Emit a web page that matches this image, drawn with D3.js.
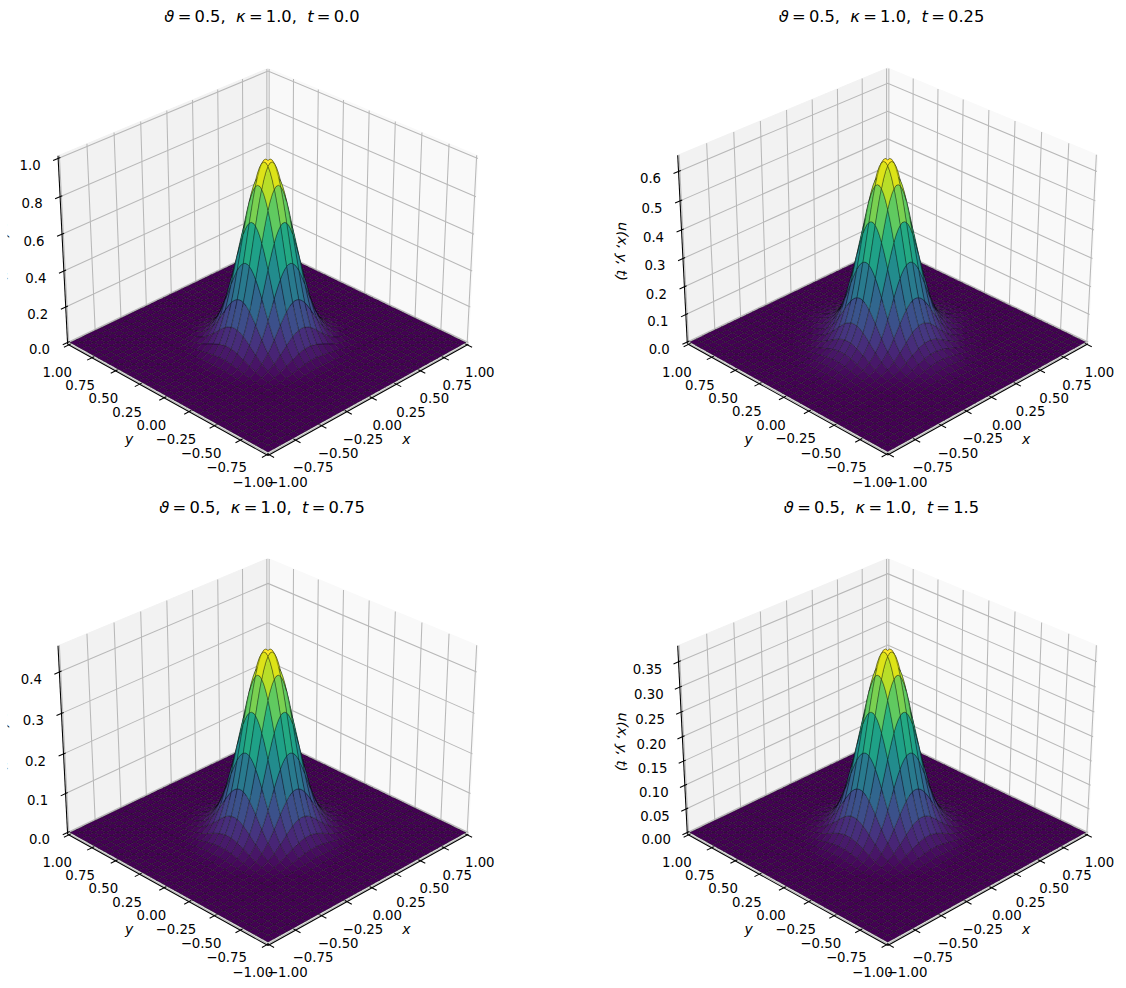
<!DOCTYPE html>
<html>
<head>
<meta charset="utf-8">
<script src="https://cdn.jsdelivr.net/npm/d3@7"></script>
<style>
  html, body { margin: 0; padding: 0; background: #fff; }
  svg { display: block; }
  text { font-family: "DejaVu Sans", sans-serif; fill: #000; }
</style>
</head>
<body>
<svg id="chart" width="1126" height="988"></svg>
<script>
// Solution snapshots of the 2D diffusion problem
const thetaValue = "0.5";
const kappaValue = "1.0";
const timeLabels = ["0.0", "0.25", "0.75", "1.5"];
const peakHeights = [1.0, 0.645, 0.456, 0.376];
const zTicksA = [0, 0.2, 0.4, 0.6, 0.8, 1.0];
const zTicksB = [0, 0.1, 0.2, 0.3, 0.4, 0.5, 0.6];
const zTicksC = [0, 0.1, 0.2, 0.3, 0.4];
const zTicksD = [0, 0.05, 0.1, 0.15, 0.2, 0.25, 0.3, 0.35];
const zTickFormats = [".1f", ".1f", ".1f", ".2f"];
const planeTicks = [-1, -0.75, -0.5, -0.25, 0, 0.25, 0.5, 0.75, 1];

// Height along one axis relative to the peak, one entry per sample from the centre out to the edge
const profileA = [1, .9873, .9625, .9263, .8803, .8259, .7650, .6997, .6318, .5633,
  .4958, .4309, .3698, .3133, .2621, .2165, .1765, .1421, .1129, .0886,
  .0687, .0525, .0397, .0296, .0218, .0158, .0114, .0081, .0056, .0039,
  .0027, .0018, .0012, .0008, .0005, .0003, .0002, .0001, .0001, 0,
  0, 0, 0, 0, 0, 0, 0, 0, 0, 0];
const profileB = [1, .9875, .963, .927, .881, .827, .766, .701, .634, .567,
  .500, .436, .376, .321, .275, .233, .197, .166, .140, .118,
  .100, .085, .072, .061, .052, .044, .037, .031, .026, .022,
  .018, .015, .0125, .0105, .0085, .007, .0058, .0047, .0038, .003,
  .0024, .0019, .0015, .0012, .0009, .0007, .0005, .0004, .0003, .0002];
const profileC = [1, .9874, .9627, .9267, .881, .8267, .766, .701, .633, .565,
  .498, .434, .373, .317, .266, .221, .181, .147, .118, .094,
  .074, .058, .045, .035, .027, .021, .016, .012, .009, .007,
  .005, .004, .003, .002, .0015, .001, .0008, .0006, .0004, .0003,
  .0002, .0001, 0, 0, 0, 0, 0, 0, 0, 0];
const profileD = [1, .9874, .9627, .9267, .881, .8267, .766, .701, .633, .565,
  .498, .434, .373, .317, .266, .221, .181, .147, .118, .094,
  .074, .058, .045, .035, .027, .021, .016, .012, .009, .007,
  .005, .004, .003, .002, .0015, .001, .0008, .0006, .0004, .0003,
  .0002, .0001, 0, 0, 0, 0, 0, 0, 0, 0];

const sampleCount = 100, cellStride = 3;
const panelOrigins = [[0, 0], [619.7, -0.5], [0, 490], [619.7, 490]];
const panelTicks = [zTicksA, zTicksB, zTicksC, zTicksD];
const panelProfiles = [profileA, profileB, profileC, profileD];
const titleCentres = [[262, 22], [881.5, 22], [262, 513], [881.5, 513]];

// Viewing geometry of the 3D box
const elev = 30 * Math.PI / 180, azim = 225 * Math.PI / 180, viewDist = 10;
const aspect = [4, 4, 3];
const aspectNorm = Math.hypot(...aspect);
const box = aspect.map(a => a * 1.8294640721620434 * 25 / 24 / aspectNorm);
box[2] *= 1.025;
const centre = box.map(b => b / 2);
const viewDir = [Math.cos(elev) * Math.cos(azim), Math.cos(elev) * Math.sin(azim), Math.sin(elev)];
const eye = centre.map((c, i) => c + viewDist * viewDir[i]);
const cross = (a, b) => [a[1]*b[2]-a[2]*b[1], a[2]*b[0]-a[0]*b[2], a[0]*b[1]-a[1]*b[0]];
const dot = (a, b) => a[0]*b[0]+a[1]*b[1]+a[2]*b[2];
const unit = a => { const n = Math.hypot(...a); return a.map(v => v / n); };
const camW = unit(viewDir), camU = unit(cross([0, 0, 1], camW)), camV = cross(camW, camU);

// x, y in [-1, 1]; z as a fraction of the panel's height range
function project(x, y, z) {
  const p = [(x + 1) / 2 * box[0], (y + 1) / 2 * box[1], z * box[2]];
  const d = p.map((v, i) => v - eye[i]);
  const w = -dot(camW, d);
  return { u: dot(camU, d) / w, v: dot(camV, d) / w, depth: w };
}

const xyEdge = 1.012;
const zLow = -0.01, zHigh = 1.014;

const sx = d3.scaleLinear()
  .domain([project(-xyEdge, xyEdge, zHigh).u, project(xyEdge, -xyEdge, zHigh).u])
  .range([58, 478]);
const sy = d3.scaleLinear()
  .domain([project(xyEdge, xyEdge, zHigh).v, project(-xyEdge, -xyEdge, zLow).v])
  .range([68.5, 455.5]);
const pt = (x, y, z) => { const p = project(x, y, z); return [sx(p.u), sy(p.v)]; };
const linePath = d3.line();

const svg = d3.select("#chart");
const defs = svg.append("defs");
defs.append("clipPath").attr("id", "edgeClip")
  .append("rect").attr("x", 7.5).attr("y", 0).attr("width", 8).attr("height", 988);

const minus = s => s.replace("-", "\u2212");
const fmtPlane = v => minus(d3.format(".2f")(v));

// Sample positions and the indices at which cell boundaries fall
const sampleX = d3.scaleLinear().domain([0, sampleCount - 1]).range([-1, 1]);
const cellEdges = d3.range(0, sampleCount - 1, cellStride).concat([sampleCount - 1]);

panelOrigins.forEach(([ox, oy], idx) => {
  const peak = peakHeights[idx];
  const zn = v => v / peak;
  const g = svg.append("g").attr("transform", `translate(${ox},${oy})`);

  // Back walls and floor
  const panes = [
    { c: "#f9f9f9", pts: [[xyEdge,-xyEdge,zLow],[xyEdge,xyEdge,zLow],[xyEdge,xyEdge,zHigh],[xyEdge,-xyEdge,zHigh]] },
    { c: "#f2f2f2", pts: [[-xyEdge,xyEdge,zLow],[xyEdge,xyEdge,zLow],[xyEdge,xyEdge,zHigh],[-xyEdge,xyEdge,zHigh]] },
    { c: "#f5f5f5", pts: [[-xyEdge,-xyEdge,zLow],[xyEdge,-xyEdge,zLow],[xyEdge,xyEdge,zLow],[-xyEdge,xyEdge,zLow]] }
  ];
  g.selectAll("path.pane").data(panes).join("path").attr("class", "pane")
    .attr("d", d => linePath(d.pts.map(p => pt(...p))) + "Z")
    .attr("fill", d => d.c).attr("stroke", d => d.c).attr("stroke-width", 1);

  // Grid lines on the panes
  const grid = [];
  planeTicks.forEach(t => {
    grid.push([[t,-xyEdge,zLow],[t,xyEdge,zLow],[t,xyEdge,zHigh]]);
    grid.push([[-xyEdge,t,zLow],[xyEdge,t,zLow],[xyEdge,t,zHigh]]);
  });
  panelTicks[idx].forEach(t => {
    grid.push([[-xyEdge,xyEdge,zn(t)],[xyEdge,xyEdge,zn(t)],[xyEdge,-xyEdge,zn(t)]]);
  });
  g.selectAll("path.grid").data(grid).join("path").attr("class", "grid")
    .attr("d", d => linePath(d.map(p => pt(...p))))
    .attr("fill", "none").attr("stroke", "#b8b8b8").attr("stroke-width", 1.05);

  // Axis lines
  const axes = [
    [[-xyEdge,-xyEdge,zLow],[xyEdge,-xyEdge,zLow]],
    [[-xyEdge,-xyEdge,zLow],[-xyEdge,xyEdge,zLow]],
    [[-xyEdge,xyEdge,zLow],[-xyEdge,xyEdge,zHigh]]
  ];
  g.selectAll("path.axis").data(axes).join("path").attr("class", "axis")
    .attr("d", d => linePath(d.map(p => pt(...p))))
    .attr("fill", "none").attr("stroke", "#000").attr("stroke-width", 1.05);

  // Tick marks
  const tickIn = 0.02, tickOut = 0.045;
  const ticks = [];
  planeTicks.forEach(t => {
    ticks.push([[t,-xyEdge+tickIn,zLow],[t,-xyEdge-tickOut,zLow]]);
    ticks.push([[-xyEdge+tickIn,t,zLow],[-xyEdge-tickOut,t,zLow]]);
  });
  panelTicks[idx].forEach(t => {
    ticks.push([[-xyEdge+tickIn,xyEdge,zn(t)],[-xyEdge-tickOut,xyEdge,zn(t)]]);
  });
  g.selectAll("path.tick").data(ticks).join("path").attr("class", "tick")
    .attr("d", d => linePath(d.map(p => pt(...p))))
    .attr("fill", "none").attr("stroke", "#000").attr("stroke-width", 1.05);

  // Surface cells, far ones first; each outline follows every sample along its edge
  const profile = panelProfiles[idx];
  const half = sampleCount / 2;
  const relative = i => profile[i < half ? half - 1 - i : i - half];
  const cells = [];
  for (let a = 0; a < cellEdges.length - 1; a++) {
    for (let b = 0; b < cellEdges.length - 1; b++) {
      const i0 = cellEdges[a], i1 = cellEdges[a + 1], j0 = cellEdges[b], j1 = cellEdges[b + 1];
      const outline = [];
      for (let i = i0; i < i1; i++) outline.push([i, j0]);
      for (let j = j0; j < j1; j++) outline.push([i1, j]);
      for (let i = i1; i > i0; i--) outline.push([i, j1]);
      for (let j = j1; j > j0; j--) outline.push([i0, j]);
      const nodes = outline.map(([i, j]) => ({ x: sampleX(i), y: sampleX(j), z: relative(i) * relative(j) }));
      cells.push({
        nodes,
        mean: d3.mean(nodes, n => n.z),
        depth: d3.mean(nodes, n => project(n.x, n.y, n.z).depth)
      });
    }
  }
  cells.sort((p, q) => q.depth - p.depth);
  const colour = d3.scaleSequential(d3.interpolateViridis).domain(d3.extent(cells, c => c.mean));
  g.append("g").selectAll("path").data(cells).join("path")
    .attr("d", d => linePath(d.nodes.map(n => pt(n.x, n.y, n.z))) + "Z")
    .attr("fill", d => colour(d.mean))
    .attr("stroke", "#0a0a0a").attr("stroke-opacity", 0.7).attr("stroke-width", 0.5);

  // Tick labels
  planeTicks.forEach(t => {
    const f = (t + 1) / 2;
    const [xa, ya] = pt(t, -xyEdge, zLow);
    g.append("text").attr("x", xa + 18 - 5.5 * f).attr("y", ya + 27.5).attr("dy", ".36em")
      .attr("text-anchor", "middle").attr("font-size", 13.3).text(fmtPlane(t));
    const [xb, yb] = pt(-xyEdge, t, zLow);
    g.append("text").attr("x", xb - 14 + 2.5 * f).attr("y", yb + 27.5).attr("dy", ".36em")
      .attr("text-anchor", "middle").attr("font-size", 13.3).text(fmtPlane(t));
  });
  const zFmt = d3.format(zTickFormats[idx]);
  panelTicks[idx].forEach(t => {
    const [xz, yz] = pt(-xyEdge, xyEdge, zn(t));
    g.append("text").attr("x", xz + (zTickFormats[idx] === ".2f" ? -31 : -28)).attr("y", yz + 7).attr("dy", ".36em")
      .attr("text-anchor", "middle").attr("font-size", 13.3).text(zFmt(t));
  });

  // Axis names
  const [xl, yl] = pt(0, -xyEdge, zLow);
  g.append("text").attr("x", xl + 34.5).attr("y", yl + 41.5).attr("dy", ".36em")
    .attr("text-anchor", "middle").attr("font-size", 14).attr("font-style", "italic").text("x");
  const [xl2, yl2] = pt(-xyEdge, 0, zLow);
  g.append("text").attr("x", xl2 - 35).attr("y", yl2 + 41.5).attr("dy", ".36em")
    .attr("text-anchor", "middle").attr("font-size", 14).attr("font-style", "italic").text("y");

  const zName = g.append("g");
  if (ox === 0) zName.attr("clip-path", "url(#edgeClip)");
  zName.append("text")
    .attr("transform", "translate(3,252) rotate(92)")
    .attr("dy", ".36em").attr("text-anchor", "middle").attr("font-size", 14).attr("font-style", "italic")
    .text("u(x, y, t)");

  // Panel title
  const [tx, ty] = titleCentres[idx];
  const title = svg.append("text").attr("x", tx).attr("y", ty)
    .attr("text-anchor", "middle").attr("font-size", 16.3);
  title.append("tspan").attr("font-style", "italic").text("\u03D1");
  title.append("tspan").text(`\u2009=\u2009${thetaValue},\u00A0\u00A0`);
  title.append("tspan").attr("font-style", "italic").text("\u03BA");
  title.append("tspan").text(`\u2009=\u2009${kappaValue},\u00A0\u00A0`);
  title.append("tspan").attr("font-style", "italic").text("t");
  title.append("tspan").text(`\u2009=\u2009${timeLabels[idx]}`);
});
</script>
</body>
</html>
